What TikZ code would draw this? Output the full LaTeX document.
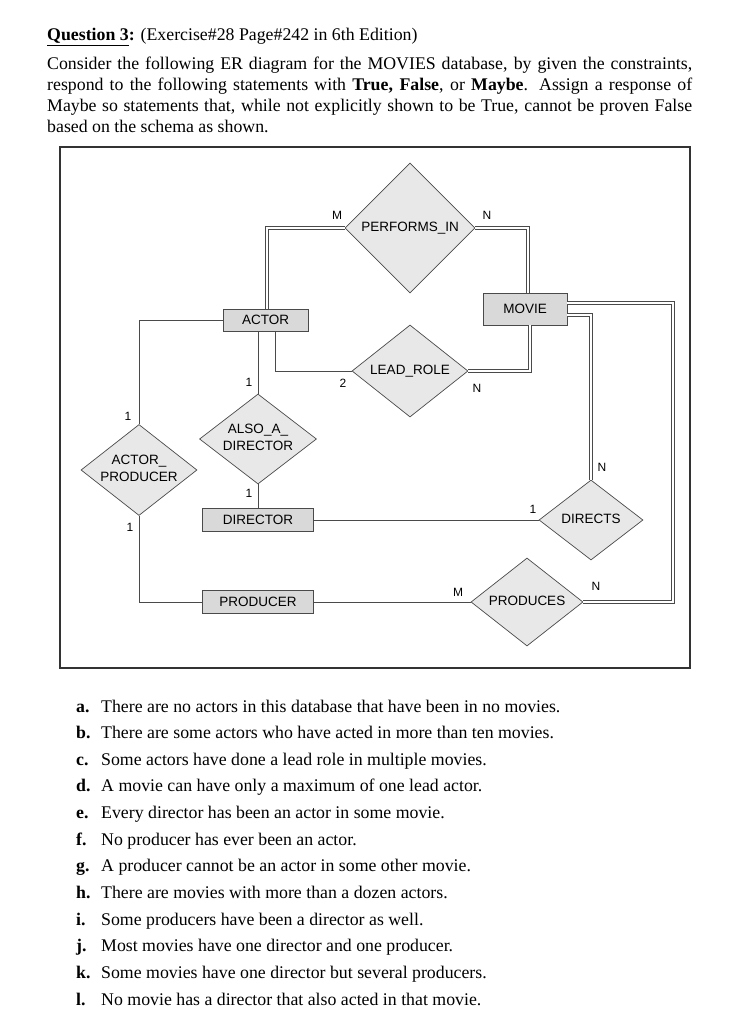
\documentclass[tikz,border=0pt]{standalone}
\usepackage{fontspec}
\setmainfont{Liberation Serif}
\newfontfamily\diafont{Liberation Sans}
\usetikzlibrary{shapes.geometric}
\definecolor{lc}{HTML}{4A4A4A}
\definecolor{boxfill}{HTML}{D9D9D9}
\definecolor{relfill}{HTML}{E8E8E8}
\definecolor{framec}{HTML}{333333}
\newcommand{\dlab}[1]{\makebox[0pt]{\begin{tabular}{@{}c@{}}#1\end{tabular}}}
\tikzset{
  line/.style={draw=lc, line width=0.7pt},
  dline/.style={draw=lc, line width=0.6pt, double=white, double distance=2pt},
  ent/.style={draw=lc, line width=0.8pt, fill=boxfill, inner sep=0pt, font=\diafont\fontsize{13.5}{16}\selectfont},
  rel/.style={diamond, draw=lc, line width=0.7pt, fill=relfill, inner sep=0pt, font=\diafont\fontsize{13.5}{17}\selectfont},
  card/.style={font=\diafont\fontsize{12}{14}\selectfont, inner sep=0pt},
  body/.style={anchor=base west, inner sep=0pt, font=\fontsize{17.8}{21}\selectfont},
}
\begin{document}
\begin{tikzpicture}[x=1pt,y=-1pt]
\fill[white] (0,0) rectangle (736,1024);
\useasboundingbox (0,0) rectangle (736,1024);

% heading and paragraph
\node[body] (title) at (47,41) {\textbf{\underline{Question 3}:} (Exercise\#28 Page\#242 in 6th Edition)};
\node[body] (p1) at (47,70) {\makebox[645pt][s]{Consider the following ER diagram for the MOVIES database, by given the constraints,}};
\node[body] (p2) at (47,91) {\makebox[645pt][s]{respond to the following statements with \textbf{True, False}, or \textbf{Maybe}. Assign a response of}};
\node[body] (p3) at (47,112) {\makebox[645pt][s]{Maybe so statements that, while not explicitly shown to be True, cannot be proven False}};
\node[body] (p4) at (47,133) {based on the schema as shown.};

% frame
\draw[draw=framec, line width=1.2pt] (60,147) rectangle (690,668);

% entities
\node[ent, minimum width=85pt, minimum height=22pt] (actor) at (265.5,320) {ACTOR};
\node[ent, minimum width=84pt, minimum height=32pt] (movie) at (525,309) {MOVIE};
\node[ent, minimum width=111pt, minimum height=23pt] (director) at (258,520) {DIRECTOR};
\node[ent, minimum width=111pt, minimum height=23pt] (producer) at (258,602) {PRODUCER};

% relationships
\node[rel, minimum width=130pt, minimum height=130pt] (performs) at (410,228) {\dlab{PERFORMS\_IN}};
\node[rel, minimum width=116pt, minimum height=92pt] (lead) at (410,371) {\dlab{LEAD\_ROLE}};
\node[rel, minimum width=117pt, minimum height=90pt] (also) at (258,439) {\dlab{ALSO\_A\_\\DIRECTOR}};
\node[rel, minimum width=116pt, minimum height=91pt] (actprod) at (139,470) {\dlab{ACTOR\_\\PRODUCER}};
\node[rel, minimum width=104pt, minimum height=80pt] (directs) at (591,520) {\dlab{DIRECTS}};
\node[rel, minimum width=112pt, minimum height=88pt] (produces) at (527,602) {\dlab{PRODUCES}};

% connectors
\draw[dline] ([xshift=1.5pt]actor.north) |- (performs.west);
\draw[dline] (performs.east) -| ([xshift=3pt]movie.north);
\draw[line] ([xshift=9.5pt]actor.south) |- (lead.west);
\draw[dline] (lead.east) -| ([xshift=5pt]movie.south);
\draw[line] (also.north) -- (also.north |- actor.south);
\draw[line] (actor.west) -| (actprod.north);
\draw[line] (actprod.south) |- (producer.west);
\draw[line] (also.south) -- (director.north);
\draw[line] (director.east) -- (directs.west);
\draw[line] (producer.east) -- (produces.west);
\coordinate (rt) at (673,450);
\draw[dline] ([yshift=6pt]movie.east) -| (rt) |- (produces.east);
\draw[dline] ([yshift=-6pt]movie.east) -| (directs.north);

% cardinalities
\node[card] (c1) at (337,215) {M};
\node[card] (c2) at (487,215) {N};
\node[card] (c3) at (249,382) {1};
\node[card] (c4) at (343,383) {2};
\node[card] (c5) at (477,388) {N};
\node[card] (c6) at (128,416) {1};
\node[card] (c7) at (130,527) {1};
\node[card] (c8) at (249,493) {1};
\node[card] (c9) at (602,467) {N};
\node[card] (c10) at (533,509) {1};
\node[card] (c11) at (458,592) {M};
\node[card] (c12) at (596,586) {N};

% statements
\foreach \l/\t [count=\i from 0] in {
  a./There are no actors in this database that have been in no movies.,
  b./There are some actors who have acted in more than ten movies.,
  c./Some actors have done a lead role in multiple movies.,
  d./A movie can have only a maximum of one lead actor.,
  e./Every director has been an actor in some movie.,
  f./No producer has ever been an actor.,
  g./A producer cannot be an actor in some other movie.,
  h./There are movies with more than a dozen actors.,
  i./Some producers have been a director as well.,
  j./Most movies have one director and one producer.,
  k./Some movies have one director but several producers.,
  l./No movie has a director that also acted in that movie.}{
  \node[body] (lab\i) at (76,{712+26.65*\i}) {\textbf{\l}};
  \node[body] (item\i) at (101,{712+26.65*\i}) {\t};
}
\end{tikzpicture}
\end{document}
